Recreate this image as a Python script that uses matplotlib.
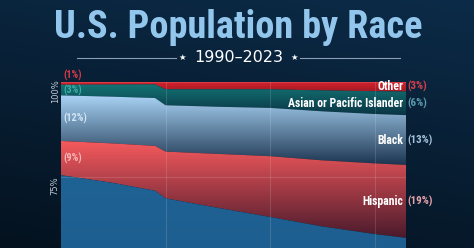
import os
import numpy as np
import matplotlib
matplotlib.use("Agg")
import matplotlib.pyplot as plt
import matplotlib.font_manager as fm
import matplotlib.transforms as mtrans
from matplotlib.colors import LinearSegmentedColormap

# share of US population (%)
years    = [1990, 1995, 1999, 2000, 2005, 2010, 2015, 2020, 2023]
other    = [0.8, 0.75, 0.7, 2.0, 2.0, 2.0, 2.3, 2.5, 2.6]
asian    = [2.8, 3.2, 3.6, 4.2, 4.6, 4.9, 5.5, 6.0, 6.2]
black    = [12.0, 12.3, 12.6, 12.2, 12.4, 12.7, 12.9, 13.0, 13.1]
hispanic = [9.0, 10.4, 11.8, 12.3, 14.2, 16.0, 17.4, 18.6, 19.2]

names      = ["Other", "Asian or Pacific Islander", "Black", "Hispanic"]
start_lbls = ["(1%)", "(3%)", "(12%)", "(9%)"]
end_lbls   = ["(3%)", "(6%)", "(13%)", "(19%)"]

# pick the narrowest bold font that is installed
prefs = ["LiberationSansNarrow-Bold", "RobotoCondensed-Bold", "Roboto_Condensed-Bold",
         "OpenSans_Condensed-Bold", "OpenSansCondensed-Bold", "NotoSans-CondensedBold",
         "DejaVuSansCondensed-Bold", "LiberationSans-Bold"]
files = {os.path.splitext(os.path.basename(f.fname))[0]: f.fname for f in fm.fontManager.ttflist}
cond_file = None
for p in prefs:
    if p in files:
        cond_file = files[p]
        break
if cond_file:
    COND = dict(fontproperties=fm.FontProperties(fname=cond_file))
else:
    COND = dict(family="DejaVu Sans", weight="bold")

x = np.array(years, dtype=float)
layers = [np.array(v) for v in (other, asian, black, hispanic)]

# top-down stacking
bounds = [np.full_like(x, 100.0)]
for l in layers:
    bounds.append(bounds[-1] - l)

fig = plt.figure(figsize=(4.74, 2.48), dpi=100)

# background gradient
bg = fig.add_axes([0, 0, 1, 1], zorder=-1)
gy = np.linspace(1, 0, 200).reshape(-1, 1)
gx = np.linspace(0, 1, 200).reshape(1, -1)
bgval = 0.75 * gy + 0.25 * gx
bg_cmap = LinearSegmentedColormap.from_list("bg", ["#04121f", "#0c2b48"])
bg.imshow(bgval, cmap=bg_cmap, aspect="auto", extent=[0, 1, 0, 1])
bg.set_axis_off()

ymin = 100 - 166.3 / 3.8
ax = fig.add_axes([61 / 474, 0, 345 / 474, 166.3 / 248])
ax.patch.set_alpha(0)

def grad_band(lo, hi, c_top, c_bot, z=1):
    poly = ax.fill_between(x, lo, hi, facecolor="none", edgecolor="none")
    cmap = LinearSegmentedColormap.from_list("", [c_bot, c_top])
    img = ax.imshow(np.linspace(0, 1, 256).reshape(-1, 1), origin="lower",
                    extent=[x[0], x[-1], lo.min(), hi.max()], aspect="auto",
                    cmap=cmap, zorder=z)
    img.set_clip_path(poly.get_paths()[0], transform=ax.transData)

tops = ["#d4222c", "#137474", "#a9d3f5", "#f65a5d"]
bots = ["#a01a24", "#0a3444", "#1c3550", "#4a1a2c"]
for i in range(4):
    grad_band(bounds[i + 1], bounds[i], tops[i], bots[i])
grad_band(np.full_like(x, 0.0), bounds[4], "#1f6294", "#1a5584")

ax.set_xlim(1990, 2023)
ax.set_ylim(ymin, 100)
ax.set_xticks([2000, 2010, 2020])
ax.set_xticklabels([])
ax.set_yticks([75, 100])
ax.set_yticklabels(["75%", "100%"], rotation=90, va="center", fontsize=6, color="#c4ccd6")
ax.tick_params(length=0, pad=1)
shift = mtrans.ScaledTranslation(0, -9 / 100, fig.dpi_scale_trans)
for t in ax.get_yticklabels():
    t.set_transform(t.get_transform() + shift)
ax.set_axisbelow(False)
ax.grid(True, color="white", alpha=0.13, lw=0.8)
for s in ax.spines.values():
    s.set_visible(False)

# labels
start_cols = ["#d83a48", "#3aaea4", "#cfe4f6", "#f7b6b8"]
end_cols   = ["#d8404c", "#5a9cb0", "#a3c3dc", "#e8a2aa"]
for i in range(4):
    mid0 = (bounds[i][0] + bounds[i + 1][0]) / 2
    mid1 = (bounds[i][-1] + bounds[i + 1][-1]) / 2
    if i == 0:
        y0, dy = 100, 4.3
    else:
        y0, dy = mid0, 0
    ax.annotate(start_lbls[i], (x[0], y0), xytext=(1.5, dy), textcoords="offset points",
                color=start_cols[i], fontsize=7.5, va="center", ha="left",
                annotation_clip=False, **COND)
    ax.annotate(names[i], (x[-1], mid1), xytext=(-2.2, 0), textcoords="offset points",
                color="white", fontsize=8.5, va="center", ha="right",
                annotation_clip=False, **COND)
    ax.annotate(end_lbls[i], (x[-1], mid1), xytext=(0.8, 0), textcoords="offset points",
                color=end_cols[i], fontsize=8, va="center", ha="left",
                annotation_clip=False, **COND)

# title
fig.text(238.5 / 474, 1 - 38.5 / 248, "U.S. Population by Race", ha="center", va="baseline",
         color="#93c6ec", fontsize=27.5, **COND)
fig.text(238.5 / 474, 1 - 57.5 / 248, "1990\u20132023", ha="center", va="center",
         color="white", fontsize=11.5)
for sx in (182, 294):
    fig.text(sx / 474, 1 - 57.5 / 248, "\u2605", ha="center", va="center",
             color="white", fontsize=6)
fig.add_artist(plt.Line2D([77 / 474, 176 / 474], [1 - 57.5 / 248] * 2, color="#8a9fb6", lw=0.8))
fig.add_artist(plt.Line2D([300 / 474, 400 / 474], [1 - 57.5 / 248] * 2, color="#8a9fb6", lw=0.8))

fig.savefig("out.png", dpi=100)
